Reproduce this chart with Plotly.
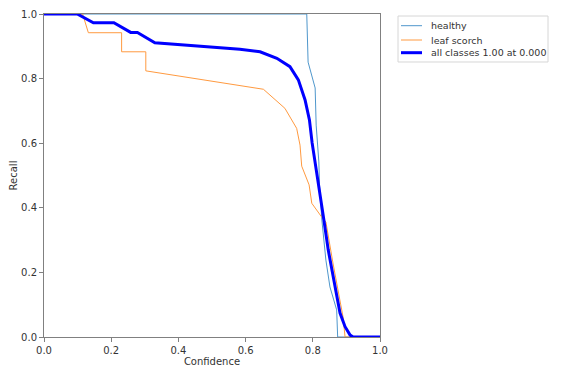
import plotly.graph_objects as go

# Recall-Confidence curves
healthy_conf = [0.0, 0.782, 0.786, 0.807, 0.810, 0.818, 0.820, 0.827, 0.839, 0.851, 0.871, 0.874, 1.0]
healthy_recall = [1.0, 1.0, 0.851, 0.771, 0.656, 0.542, 0.47, 0.362, 0.238, 0.155, 0.084, 0.0, 0.0]

scorch_conf = [0.0, 0.115, 0.132, 0.231, 0.231, 0.303, 0.303, 0.653, 0.717, 0.752, 0.762,
               0.767, 0.789, 0.797, 0.826, 0.839, 0.860, 0.890, 0.896, 1.0]
scorch_recall = [1.0, 1.0, 0.942, 0.942, 0.883, 0.883, 0.824, 0.767, 0.708, 0.646, 0.594,
                 0.529, 0.471, 0.414, 0.372, 0.356, 0.229, 0.062, 0.0, 0.0]

all_conf = [0.0, 0.099, 0.147, 0.208, 0.258, 0.278, 0.330, 0.583, 0.643, 0.693, 0.732,
            0.757, 0.777, 0.790, 0.798, 0.810, 0.821, 0.833, 0.846, 0.866, 0.881, 0.896,
            0.911, 0.920, 1.0]
all_recall = [1.0, 1.0, 0.973, 0.973, 0.943, 0.943, 0.911, 0.891, 0.883, 0.863, 0.837,
              0.796, 0.734, 0.672, 0.601, 0.524, 0.446, 0.362, 0.269, 0.156, 0.074, 0.032,
              0.006, 0.0, 0.0]

x_ticks = [0.0, 0.2, 0.4, 0.6, 0.8, 1.0]
y_ticks = [0.0, 0.2, 0.4, 0.6, 0.8, 1.0]
tick_text = ["0.0", "0.2", "0.4", "0.6", "0.8", "1.0"]

series_names = ["healthy", "leaf scorch", "all classes 1.00 at 0.000"]
series_colors = ["#4f97cc", "#ff9a40", "blue"]
series_widths = [1, 1, 3]
series_x = [healthy_conf, scorch_conf, all_conf]
series_y = [healthy_recall, scorch_recall, all_recall]

fig = go.Figure()
for name, xs, ys, c, w in zip(series_names, series_x, series_y, series_colors, series_widths):
    fig.add_trace(go.Scatter(x=xs, y=ys, mode="lines", name=name,
                             line=dict(color=c, width=w), showlegend=False))

axis_common = dict(range=[0, 1], showgrid=False, zeroline=False, showline=True, mirror=True,
                   automargin=False, layer="above traces",
                   linecolor="#808080", linewidth=1, ticks="outside", ticklen=4, tickwidth=1,
                   tickcolor="#808080", tickfont=dict(family="DejaVu Sans", size=10, color="#333"),
                   title_font=dict(family="DejaVu Sans", size=10, color="#333"))

# custom matplotlib-like legend box (paper coordinates)
leg_x0, leg_x1, leg_y0, leg_y1 = 1.0536, 1.50, 0.8514, 0.9938
line_x0, line_x1, text_x = 1.0625, 1.125, 1.1458
row_y = [0.9638, 0.9195, 0.8802]

shapes = [dict(type="rect", xref="paper", yref="paper", x0=leg_x0, x1=leg_x1, y0=leg_y0, y1=leg_y1,
               line=dict(color="#d6d6d6", width=1), fillcolor="white", layer="below")]
annotations = []
for name, c, w, yy in zip(series_names, series_colors, series_widths, row_y):
    shapes.append(dict(type="line", xref="paper", yref="paper", x0=line_x0, x1=line_x1, y0=yy, y1=yy,
                       line=dict(color=c, width=w)))
    annotations.append(dict(xref="paper", yref="paper", x=text_x, y=yy, text=name, showarrow=False,
                            xanchor="left", yanchor="middle",
                            font=dict(family="DejaVu Sans", size=9.5, color="#333")))

fig.update_layout(
    width=547, height=359,
    margin=dict(l=36, r=175, t=6, b=30),
    paper_bgcolor="white", plot_bgcolor="white",
    xaxis=dict(axis_common, tickvals=x_ticks, ticktext=tick_text, title=dict(text="Confidence", standoff=3)),
    yaxis=dict(axis_common, tickvals=y_ticks, ticktext=tick_text, title=dict(text="Recall", standoff=8)),
    shapes=shapes, annotations=annotations,
    showlegend=False,
)

fig.write_html("out.html")
